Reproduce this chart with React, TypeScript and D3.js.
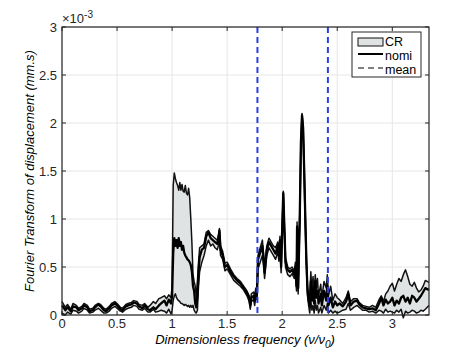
import React from "react";
import * as d3 from "d3";

// Dimensionless frequency (nu/nu0)
const freq = [
  0.0, 0.03, 0.05, 0.08, 0.1, 0.13, 0.15, 0.18, 0.2, 0.23, 0.25, 0.28, 0.3, 0.33, 0.35, 0.38, 0.4, 0.43, 0.45, 0.48,
  0.5, 0.53, 0.55, 0.58, 0.6, 0.63, 0.65, 0.68, 0.7, 0.73, 0.75, 0.78, 0.8, 0.83, 0.85, 0.88, 0.9, 0.93, 0.95, 0.97,
  0.99, 1.0, 1.01, 1.02, 1.03, 1.04, 1.05, 1.06, 1.07, 1.08, 1.09, 1.1, 1.11, 1.12, 1.13, 1.14, 1.15, 1.16, 1.17, 1.18,
  1.19, 1.2, 1.21, 1.22, 1.23, 1.24, 1.25, 1.27, 1.29, 1.31, 1.33, 1.35, 1.37, 1.39, 1.41, 1.42, 1.43, 1.44, 1.46, 1.48,
  1.5, 1.53, 1.56, 1.59, 1.62, 1.65, 1.68, 1.7, 1.71, 1.72, 1.74, 1.75, 1.76, 1.77, 1.78, 1.8, 1.82, 1.83, 1.84, 1.86,
  1.88, 1.9, 1.92, 1.94, 1.96, 1.97, 1.98, 1.99, 2.0, 2.01, 2.02, 2.03, 2.05, 2.07, 2.09, 2.11, 2.12, 2.13, 2.135, 2.145,
  2.16, 2.17, 2.18, 2.19, 2.2, 2.21, 2.22, 2.23, 2.24, 2.25, 2.26, 2.27, 2.28, 2.29, 2.3, 2.31, 2.32, 2.33, 2.35, 2.36,
  2.38, 2.4, 2.41, 2.42, 2.44, 2.46, 2.48, 2.5, 2.52, 2.55, 2.58, 2.6, 2.62, 2.65, 2.68, 2.7, 2.73, 2.76, 2.79, 2.82,
  2.85, 2.88, 2.9, 2.92, 2.94, 2.96, 2.98, 3.0, 3.02, 3.04, 3.06, 3.08, 3.1, 3.12, 3.14, 3.16, 3.18, 3.2, 3.22, 3.24,
  3.26, 3.28, 3.3, 3.333,
];

// values in units of 1e-3 mm.s
const crLower = [
  0.02, 0.0, 0.03, 0.01, 0.05, 0.04, 0.02, 0.04, 0.07, 0.05, 0.02, 0.03, 0.05, 0.07, 0.05, 0.02, 0.02, 0.04, 0.07, 0.09,
  0.07, 0.04, 0.03, 0.06, 0.07, 0.08, 0.1, 0.09, 0.06, 0.05, 0.07, 0.03, 0.03, 0.06, 0.03, 0.04, 0.05, 0.04, 0.02, 0.06,
  0.01, 0.05, 0.15, 0.2, 0.22, 0.18, 0.16, 0.15, 0.14, 0.12, 0.12, 0.11, 0.1, 0.11, 0.1, 0.09, 0.1, 0.08, 0.1, 0.08,
  0.1, 0.05, 0.03, 0.02, 0.05, 0.3, 0.45, 0.55, 0.62, 0.72, 0.78, 0.72, 0.74, 0.7, 0.68, 0.72, 0.8, 0.62, 0.58, 0.46,
  0.48, 0.42, 0.36, 0.33, 0.3, 0.26, 0.2, 0.14, 0.06, 0.14, 0.16, 0.1, 0.18, 0.16, 0.48, 0.55, 0.62, 0.52, 0.38, 0.62,
  0.7, 0.66, 0.62, 0.58, 0.66, 0.56, 0.7, 0.44, 0.8, 1.2, 0.85, 0.5, 0.42, 0.4, 0.43, 0.38, 0.42, 0.25, 0.85, 0.22,
  0.95, 1.7, 2.02, 1.9, 1.4, 0.9, 0.5, 0.2, 0.1, 0.02, 0.15, 0.05, 0.1, 0.02, 0.15, 0.05, 0.1, 0.02, 0.08, 0.02,
  0.1, 0.05, 0.12, 0.02, 0.05, 0.02, 0.04, 0.02, 0.03, 0.05, 0.06, 0.12, 0.05, 0.08, 0.1, 0.08, 0.05, 0.05, 0.03, 0.04,
  0.02, 0.05, 0.04, 0.02, 0.06, 0.03, 0.04, 0.03, 0.02, 0.05, 0.03, 0.06, -0.03, 0.04, 0.02, 0.03, 0.05, 0.04, 0.02, 0.03,
  0.05, 0.04, 0.06, 0.1,
];

const nominal = [
  0.1, 0.05, 0.08, 0.04, 0.09, 0.08, 0.05, 0.07, 0.1, 0.08, 0.04, 0.05, 0.08, 0.11, 0.09, 0.05, 0.04, 0.07, 0.1, 0.12,
  0.1, 0.06, 0.05, 0.09, 0.1, 0.11, 0.13, 0.12, 0.09, 0.07, 0.1, 0.06, 0.05, 0.08, 0.06, 0.1, 0.12, 0.15, 0.1, 0.16,
  0.12, 0.2, 0.65, 0.8, 0.72, 0.78, 0.7, 0.8, 0.72, 0.76, 0.68, 0.72, 0.65, 0.62, 0.6, 0.58, 0.57, 0.55, 0.52, 0.45,
  0.3, 0.25, 0.12, 0.08, 0.2, 0.45, 0.6, 0.68, 0.7, 0.82, 0.86, 0.8, 0.78, 0.76, 0.74, 0.8, 0.88, 0.68, 0.62, 0.5,
  0.52, 0.45, 0.4, 0.36, 0.33, 0.28, 0.23, 0.18, 0.1, 0.18, 0.2, 0.15, 0.22, 0.2, 0.58, 0.65, 0.72, 0.6, 0.44, 0.68,
  0.76, 0.72, 0.68, 0.64, 0.72, 0.62, 0.78, 0.5, 0.9, 1.27, 0.9, 0.55, 0.47, 0.45, 0.47, 0.42, 0.5, 0.3, 0.92, 0.28,
  1.05, 1.8, 2.08, 1.95, 1.5, 1.0, 0.55, 0.25, 0.15, 0.1, 0.35, 0.15, 0.28, 0.12, 0.35, 0.18, 0.25, 0.12, 0.22, 0.1,
  0.25, 0.15, 0.3, 0.1, 0.18, 0.08, 0.14, 0.1, 0.12, 0.09, 0.14, 0.22, 0.1, 0.14, 0.15, 0.11, 0.08, 0.07, 0.06, 0.07,
  0.05, 0.12, 0.18, 0.1, 0.16, 0.12, 0.14, 0.18, 0.1, 0.15, 0.12, 0.18, 0.2, 0.14, 0.18, 0.12, 0.2, 0.18, 0.14, 0.17,
  0.2, 0.24, 0.28, 0.26,
];

const crUpper = [
  0.14, 0.08, 0.11, 0.06, 0.12, 0.1, 0.07, 0.09, 0.12, 0.1, 0.06, 0.07, 0.1, 0.12, 0.11, 0.07, 0.06, 0.09, 0.12, 0.14,
  0.12, 0.08, 0.07, 0.11, 0.12, 0.13, 0.15, 0.14, 0.11, 0.1, 0.12, 0.08, 0.1, 0.14, 0.12, 0.17, 0.18, 0.2, 0.17, 0.21,
  0.18, 0.3, 1.35, 1.48, 1.42, 1.38, 1.35, 1.3, 1.38, 1.3, 1.36, 1.29, 1.28, 1.35, 1.27, 1.25, 1.32, 1.22, 1.0, 0.75,
  0.42, 0.35, 0.3, 0.18, 0.35, 0.55, 0.7, 0.72, 0.74, 0.86, 0.88, 0.84, 0.82, 0.8, 0.78, 0.82, 0.9, 0.72, 0.66, 0.54,
  0.55, 0.48, 0.42, 0.38, 0.35, 0.3, 0.25, 0.2, 0.14, 0.22, 0.24, 0.2, 0.28, 0.24, 0.62, 0.7, 0.78, 0.64, 0.48, 0.72,
  0.8, 0.76, 0.72, 0.7, 0.76, 0.68, 0.82, 0.56, 0.95, 1.29, 0.95, 0.6, 0.5, 0.48, 0.5, 0.46, 0.55, 0.36, 0.97, 0.32,
  1.1, 1.85, 2.1, 1.98, 1.55, 1.05, 0.6, 0.3, 0.2, 0.18, 0.45, 0.25, 0.4, 0.22, 0.42, 0.28, 0.38, 0.2, 0.32, 0.18,
  0.35, 0.28, 0.42, 0.2, 0.3, 0.15, 0.22, 0.18, 0.16, 0.12, 0.18, 0.25, 0.14, 0.17, 0.17, 0.13, 0.1, 0.09, 0.08, 0.1,
  0.08, 0.16, 0.2, 0.14, 0.22, 0.25, 0.3, 0.33, 0.25, 0.32, 0.38, 0.35, 0.42, 0.47, 0.4, 0.32, 0.3, 0.34, 0.28, 0.24,
  0.26, 0.3, 0.36, 0.34,
];

const meanFreqs = [1.775, 2.415];
const xTicks = [0, 0.5, 1, 1.5, 2, 2.5, 3];
const yTicks = [0, 0.5, 1, 1.5, 2, 2.5, 3];
const legendLabels = ["CR", "nomi", "mean"];

const W = 474;
const H = 355;
const M = { left: 62, right: 429, top: 27, bottom: 315 };
const FONT = "'Liberation Sans', Arial, Helvetica, sans-serif";
const AX = "#262626";

export default function App() {
  const x = d3.scaleLinear().domain([0, 10 / 3]).range([M.left, M.right]);
  const y = d3.scaleLinear().domain([0, 3]).range([M.bottom, M.top]);

  const pts = freq.map((f, i) => ({ f, lo: crLower[i], nom: nominal[i], hi: crUpper[i] }));
  const area = d3
    .area<any>()
    .x((d) => x(d.f))
    .y0((d) => y(d.lo))
    .y1((d) => y(d.hi));
  const lineLo = d3.line<any>().x((d) => x(d.f)).y((d) => y(d.lo));
  const lineHi = d3.line<any>().x((d) => x(d.f)).y((d) => y(d.hi));
  const lineNom = d3.line<any>().x((d) => x(d.f)).y((d) => y(d.nom));

  const lx = 352;
  const ly = 32;

  return (
    <svg
      width={W}
      height={H}
      style={{ position: "absolute", left: 0, top: 0, background: "#fff" }}
      fontFamily={FONT}
    >
      <rect x={0} y={0} width={W} height={H} fill="#fff" />
      {/* grid */}
      {xTicks.map((t) => (
        <line key={"gx" + t} x1={x(t)} x2={x(t)} y1={M.top} y2={M.bottom} stroke="#e6e6e6" strokeWidth={1} />
      ))}
      {yTicks.map((t) => (
        <line key={"gy" + t} x1={M.left} x2={M.right} y1={y(t)} y2={y(t)} stroke="#e6e6e6" strokeWidth={1} />
      ))}

      {/* CR band */}
      <path d={area(pts) || ""} fill="#dfe3e3" stroke="none" />
      <path d={lineLo(pts) || ""} fill="none" stroke="#111" strokeWidth={1.5} strokeLinejoin="round" />
      <path d={lineHi(pts) || ""} fill="none" stroke="#111" strokeWidth={1.5} strokeLinejoin="round" />
      <path d={lineNom(pts) || ""} fill="none" stroke="#000" strokeWidth={2.3} strokeLinejoin="round" />

      {/* mean lines */}
      {meanFreqs.map((m) => (
        <line
          key={"m" + m}
          x1={x(m)}
          x2={x(m)}
          y1={M.top}
          y2={M.bottom}
          stroke="#2b3fe6"
          strokeWidth={2}
          strokeDasharray="6,4"
        />
      ))}

      {/* axes box */}
      <rect
        x={M.left}
        y={M.top}
        width={M.right - M.left}
        height={M.bottom - M.top}
        fill="none"
        stroke={AX}
        strokeWidth={1.2}
      />
      {xTicks.map((t) => (
        <g key={"xt" + t}>
          <line x1={x(t)} x2={x(t)} y1={M.bottom} y2={M.bottom - 4} stroke={AX} />
          <line x1={x(t)} x2={x(t)} y1={M.top} y2={M.top + 4} stroke={AX} />
          <text x={x(t)} y={328} textAnchor="middle" fontSize={13} fill={AX}>
            {t}
          </text>
        </g>
      ))}
      {yTicks.map((t) => (
        <g key={"yt" + t}>
          <line x1={M.left} x2={M.left + 4} y1={y(t)} y2={y(t)} stroke={AX} />
          <line x1={M.right} x2={M.right - 4} y1={y(t)} y2={y(t)} stroke={AX} />
          <text x={M.left - 5} y={y(t) + 4.5} textAnchor="end" fontSize={13} fill={AX}>
            {t}
          </text>
        </g>
      ))}

      {/* exponent */}
      <text x={62} y={23} fontSize={13} fill={AX}>
        ×10
        <tspan dy={-5} fontSize={10}>
          -3
        </tspan>
      </text>

      {/* axis labels */}
      <text x={245} y={344} textAnchor="middle" fontSize={13} fontStyle="italic" fill="#000">
        Dimensionless frequency (ν/ν
        <tspan dy={4} fontSize={10}>0</tspan>
        <tspan dy={-4}>)</tspan>
      </text>
      <text
        transform={`translate(34, ${(M.top + M.bottom) / 2}) rotate(-90)`}
        textAnchor="middle"
        fontSize={13}
        fontStyle="italic"
        fill="#000"
      >
        Fourier Transform of displacement (mm.s)
      </text>

      {/* legend */}
      <rect x={lx} y={ly} width={69} height={45} fill="#fff" stroke={AX} strokeWidth={1} />
      <rect x={lx + 6} y={ly + 6} width={25} height={8} fill="#dfe3e3" stroke="#111" strokeWidth={1} />
      <text x={lx + 33} y={ly + 14} fontSize={12.5} fill="#000">
        {legendLabels[0]}
      </text>
      <line x1={lx + 6} x2={lx + 31} y1={ly + 22} y2={ly + 22} stroke="#000" strokeWidth={2} />
      <text x={lx + 33} y={ly + 28} fontSize={12.5} fill="#000">
        {legendLabels[1]}
      </text>
      <line x1={lx + 6} x2={lx + 31} y1={ly + 36} y2={ly + 36} stroke="#000" strokeWidth={1} strokeDasharray="6,4" />
      <text x={lx + 33} y={ly + 42} fontSize={12.5} fill="#000">
        {legendLabels[2]}
      </text>
    </svg>
  );
}
